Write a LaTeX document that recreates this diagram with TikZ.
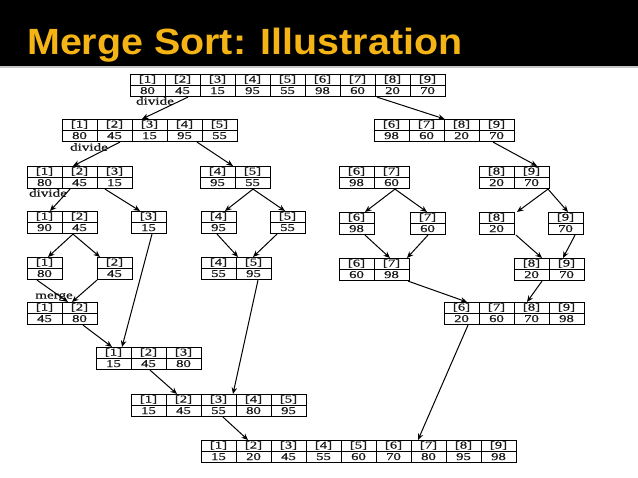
\documentclass[tikz,border=0pt]{standalone}
\usepackage{fontspec}
\setmainfont{Liberation Serif}
\newfontfamily\titlefont[FakeStretch=1.08]{Liberation Sans}
\newfontfamily\cellfont[FakeStretch=1.4,FakeBold=0.7]{Liberation Serif}
\usetikzlibrary{calc,arrows.meta}
\definecolor{titlecol}{RGB}{245,180,22}
\definecolor{ink}{RGB}{25,25,25}
\tikzset{
  tblbox/.style={draw=black, line width=1.1pt, inner sep=0pt, minimum height=22pt},
  innerline/.style={draw=black, line width=0.8pt},
  celltext/.style={inner sep=0pt, text=ink, font=\cellfont\fontsize{10.5}{11}\selectfont},
  lbl/.style={inner sep=0pt, text=ink, font=\cellfont\fontsize{10.8}{11}\selectfont},
  arr/.style={draw=black, line width=1pt, -{Stealth[length=6.5pt,width=5.5pt]}},
}
\newcommand\mstable[5]{%
  \node[tblbox, minimum width=#4*35pt, anchor=north west] (#1) at (#2,#3) {};
  \draw[innerline] (#1.west) -- (#1.east);
  \foreach \i/\v [count=\k from 0] in {#5} {
    \ifnum\k>0 \draw[innerline] ($(#1.north west)+(\k*35,0)$) -- ($(#1.south west)+(\k*35,0)$);\fi
    \node[celltext] (#1-i\k) at ($(#1.north west)+(\k*35+17.5,5.6)$) {[\i]};
    \node[celltext] (#1-v\k) at ($(#1.north west)+(\k*35+17.5,16.6)$) {\v};
  }
}
\begin{document}
\begin{tikzpicture}[x=1pt,y=-1pt]
\useasboundingbox (0,0) rectangle (638,478);
\fill[white] (0,0) rectangle (638,478);
\fill[black] (0,0) rectangle (638,66);
\draw[gray!45, line width=1.5pt] (0,67) -- (638,67);
\node[anchor=base west, inner sep=0pt, text=titlecol,
  font=\titlefont\bfseries\fontsize{36.5}{38}\selectfont] (title) at (27,54.5) {Merge Sort: Illustration};

% tables
\mstable{T0}{130}{74}{9}{1/80,2/45,3/15,4/95,5/55,6/98,7/60,8/20,9/70}
\mstable{T1L}{62}{119}{5}{1/80,2/45,3/15,4/95,5/55}
\mstable{T1R}{374}{119}{4}{6/98,7/60,8/20,9/70}
\mstable{T2a}{27}{166}{3}{1/80,2/45,3/15}
\mstable{T2b}{200}{166}{2}{4/95,5/55}
\mstable{T2c}{339}{166}{2}{6/98,7/60}
\mstable{T2d}{479}{166}{2}{8/20,9/70}
\mstable{T3a}{27}{211}{2}{1/90,2/45}
\mstable{T3b}{131}{211}{1}{3/15}
\mstable{T3c}{201}{211}{1}{4/95}
\mstable{T3d}{270}{211}{1}{5/55}
\mstable{T3e}{339}{212}{1}{6/98}
\mstable{T3f}{410}{212}{1}{7/60}
\mstable{T3g}{479}{212}{1}{8/20}
\mstable{T3h}{548}{212}{1}{9/70}
\mstable{T4a}{27}{257}{1}{1/80}
\mstable{T4b}{97}{257}{1}{2/45}
\mstable{T4c}{201}{257}{2}{4/55,5/95}
\mstable{T4d}{339}{258}{2}{6/60,7/98}
\mstable{T4e}{514}{258}{2}{8/20,9/70}
\mstable{T5a}{27}{302}{2}{1/45,2/80}
\mstable{T5b}{444}{302}{4}{6/20,7/60,8/70,9/98}
\mstable{T6}{96}{347}{3}{1/15,2/45,3/80}
\mstable{T7}{131}{394}{5}{1/15,2/45,3/55,4/80,5/95}
\mstable{T8}{201}{440}{9}{1/15,2/20,3/45,4/55,5/60,6/70,7/80,8/95,9/98}

% labels
\node[lbl] (d1) at (155,101) {divide};
\node[lbl] (d2) at (89,147) {divide};
\node[lbl] (d3) at (48,193) {divide};
\node[lbl] (m1) at (54,297) {merge};

% arrows
\draw[arr] ($(T0.south west)+(58,0)$) -- ($(T1L.north west)+(80,0)$);
\draw[arr] ($(T0.south west)+(247,0)$) -- (T1R.north);
\draw[arr] ($(T1L.south west)+(58,0)$) -- ($(T2a.north west)+(46,0)$);
\draw[arr] ($(T1L.south west)+(135,0)$) -- ($(T2b.north west)+(33,0)$);
\draw[arr] ($(T1R.south west)+(119,0)$) -- ($(T2d.north west)+(58,0)$);
\draw[arr] ($(T2a.south west)+(43,0)$) -- ($(T3a.north west)+(23,0)$);
\draw[arr] ($(T2a.south west)+(78,0)$) -- ($(T3b.north west)+(9,0)$);
\draw[arr] ($(T2b.south west)+(53,0)$) -- ($(T3c.north west)+(24,0)$);
\draw[arr] ($(T2b.south west)+(53,0)$) -- ($(T3d.north west)+(15,0)$);
\draw[arr] ($(T2c.south west)+(56,0)$) -- ($(T3e.north west)+(26,0)$);
\draw[arr] ($(T2c.south west)+(56,0)$) -- ($(T3f.north west)+(17,0)$);
\draw[arr] ($(T2d.south west)+(69,0)$) -- ($(T3g.north west)+(38,0)$);
\draw[arr] ($(T2d.south west)+(69,0)$) -- ($(T3h.north west)+(20,0)$);
\draw[arr] ($(T3a.south west)+(46,0)$) -- ($(T4a.north west)+(21,0)$);
\draw[arr] ($(T3a.south west)+(46,0)$) -- ($(T4b.north west)+(3,0)$);
\draw[arr] ($(T3c.south west)+(16,0)$) -- ($(T4c.north west)+(37,0)$);
\draw[arr] ($(T3d.south west)+(7,0)$) -- ($(T4c.north west)+(52,0)$);
\draw[arr] ($(T3b.south west)+(21,0)$) -- ($(T6.north west)+(26,0)$);
\draw[arr] ($(T3e.south west)+(26,0)$) -- ($(T4d.north west)+(51,0)$);
\draw[arr] ($(T3f.south west)+(18,0)$) -- ($(T4d.north west)+(68,0)$);
\draw[arr] ($(T3g.south west)+(37,0)$) -- ($(T4e.north west)+(28,0)$);
\draw[arr] ($(T3h.south west)+(27,0)$) -- ($(T4e.north west)+(49,0)$);
\draw[arr] ($(T4a.south west)+(10,0)$) -- ($(T5a.north west)+(41,0)$);
\draw[arr] ($(T4b.south west)+(0,0)$) -- ($(T5a.north west)+(45,0)$);
\draw[arr] ($(T5a.south west)+(56,0)$) -- ($(T6.north west)+(16,0)$);
\draw[arr] ($(T4c.south west)+(57,0)$) -- ($(T7.north west)+(102,0)$);
\draw[arr] ($(T6.south west)+(54,0)$) -- ($(T7.north west)+(46,0)$);
\draw[arr] ($(T7.south west)+(92,0)$) -- ($(T8.north west)+(47,0)$);
\draw[arr] ($(T4d.south west)+(69,0)$) -- ($(T5b.north west)+(23,0)$);
\draw[arr] ($(T4e.south west)+(28,0)$) -- ($(T5b.north west)+(83,0)$);
\draw[arr] ($(T5b.south west)+(24,0)$) -- ($(T8.north west)+(217,0)$);
\end{tikzpicture}
\end{document}
